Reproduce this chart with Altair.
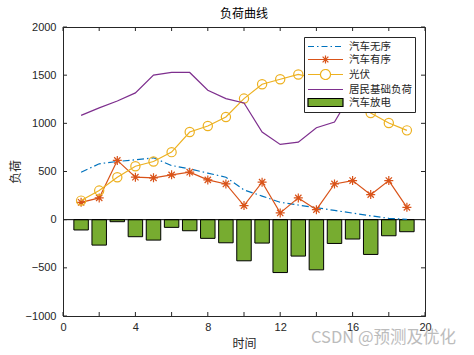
import altair as alt
import pandas as pd

# ---------------- data ----------------
hours = list(range(1, 20))
ev_unordered = [493, 580, 604, 621, 642, 562, 528, 483, 440, 309, 245, 180, 152, 124, 96, 68, 40, 14, 3]
ev_ordered = [180, 226, 615, 441, 434, 465, 493, 413, 371, 146, 389, 70, 226, 104, 371, 406, 260, 406, 128]
pv = [198, 302, 440, 555, 604, 701, 910, 972, 1066, 1257, 1406, 1458, 1507, 1465, 1385, 1240, 1107, 1003, 927]
base_load = [1083, 1160, 1232, 1316, 1500, 1528, 1528, 1344, 1257, 1212, 910, 781, 805, 955, 1014, 1330, 1450, 1550, 1600]
ev_discharge = [-107, -264, -21, -177, -212, -80, -115, -194, -240, -427, -243, -549, -378, -521, -247, -201, -361, -167, -125]

series_names = ["汽车无序", "汽车有序", "光伏", "居民基础负荷", "汽车放电"]
x_ticks = list(range(0, 21, 2))
y_ticks = list(range(-1000, 2001, 500))

title_text = "负荷曲线"
x_title = "时间"
y_title = "负荷"
watermark = "CSDN @预测及优化"

# ---------------- styles ----------------
BLUE, RED, YELLOW, PURPLE, GREEN = "#0072BD", "#D95319", "#EDB120", "#7E2F8E", "#77AC30"
AX = "#262626"
CJK = "Noto Sans CJK SC"
NUM = "Liberation Sans"
W, H = 362, 289

df = pd.DataFrame({
    "t": hours,
    "unordered": ev_unordered,
    "ordered": ev_ordered,
    "pv": pv,
    "base": base_load,
    "discharge": ev_discharge,
})

xs = alt.Scale(domain=[0, 20], nice=False, zero=False)
ys = alt.Scale(domain=[-1000, 2000], nice=False)

x_axis = alt.Axis(values=x_ticks, ticks=False, tickSize=0, grid=False, labelFont=NUM, labelFontSize=11,
                  labelColor=AX, labelPadding=5, domainColor=AX, title=x_title, titleFont=CJK,
                  titleFontSize=12, titleFontWeight="normal", titleColor=AX, titlePadding=6,
                  labelFlush=False, labelOverlap=False, format="d")
y_axis = alt.Axis(values=y_ticks, ticks=False, tickSize=0, grid=False, labelFont=NUM, labelFontSize=11,
                  labelColor=AX, labelPadding=7, domainColor=AX, title=y_title, titleFont=CJK,
                  titleFontSize=12, titleFontWeight="normal", titleColor=AX, titlePadding=3,
                  labelFlush=False, labelOverlap=False, format="d")

base = alt.Chart(df)

bars = base.transform_calculate(x1="datum.t - 0.4", x2="datum.t + 0.4").mark_bar(
    fill=GREEN, stroke="black", strokeWidth=1
).encode(
    x=alt.X("x1:Q", scale=xs, axis=x_axis),
    x2="x2:Q",
    y=alt.Y("discharge:Q", scale=ys, axis=y_axis),
    y2=alt.datum(0),
)

zero_line = alt.Chart(pd.DataFrame({"z": [0]})).mark_rule(color="black", strokeWidth=1).encode(
    y=alt.Y("z:Q", scale=ys)
)

def line(field, color, dash=None):
    kw = dict(color=color, strokeWidth=1.2)
    if dash:
        kw["strokeDash"] = dash
    return base.mark_line(**kw).encode(
        x=alt.X("t:Q", scale=xs), y=alt.Y(f"{field}:Q", scale=ys)
    )

asterisk = "M0,-1V1M-1,0H1M-0.7,-0.7L0.7,0.7M-0.7,0.7L0.7,-0.7"

l_unordered = line("unordered", BLUE, [7, 3, 1.5, 3])
l_ordered = line("ordered", RED)
p_ordered = base.mark_point(shape=asterisk, size=81, stroke=RED, strokeWidth=1.2, filled=False, opacity=1).encode(
    x=alt.X("t:Q", scale=xs), y=alt.Y("ordered:Q", scale=ys)
)
l_pv = line("pv", YELLOW)
p_pv = base.mark_point(shape="circle", size=85, stroke=YELLOW, strokeWidth=1.2, filled=False, opacity=1).encode(
    x=alt.X("t:Q", scale=xs), y=alt.Y("pv:Q", scale=ys)
)
l_base = line("base", PURPLE)

# inward ticks on all four sides
xt = alt.Chart(pd.DataFrame({"tx": x_ticks}))
yt = alt.Chart(pd.DataFrame({"ty": y_ticks}))
tick_b = xt.mark_rule(color=AX).encode(x=alt.X("tx:Q", scale=xs), y=alt.value(H), y2=alt.value(H - 4))
tick_t = xt.mark_rule(color=AX).encode(x=alt.X("tx:Q", scale=xs), y=alt.value(0), y2=alt.value(4))
tick_l = yt.mark_rule(color=AX).encode(y=alt.Y("ty:Q", scale=ys), x=alt.value(0), x2=alt.value(4))
tick_r = yt.mark_rule(color=AX).encode(y=alt.Y("ty:Q", scale=ys), x=alt.value(W), x2=alt.value(W - 4))

# legend (symbols built as custom paths, unit = 5.5px, 35px long)
sym_paths = [
    "M-1,0H5.36",
    "M-1,0H5.36M2.18,-0.73V0.73M1.66,-0.52L2.7,0.52M1.66,0.52L2.7,-0.52",
    "M-1,0H1.27M3.09,0H5.36M1.27,0A0.91,0.91 0 1 1 3.09,0A0.91,0.91 0 1 1 1.27,0",
    "M-1,0H5.36",
    "M-1,-0.73H5.36V0.73H-1Z",
]
leg = alt.Legend(
    title=None, orient="top-right", offset=10, fillColor="white", strokeColor=AX, padding=3,
    rowPadding=1, symbolSize=121, symbolStrokeWidth=1.2, labelOffset=29, labelFont=CJK,
    labelFontSize=10.5, labelColor=AX, symbolOpacity=1, labelLimit=200,
)
legend_layer = alt.Chart(pd.DataFrame({"series": series_names})).transform_filter("false").mark_point(
    size=121, opacity=1, strokeWidth=1.2
).encode(
    shape=alt.Shape("series:N", scale=alt.Scale(domain=series_names, range=sym_paths), legend=leg),
    stroke=alt.Stroke("series:N", scale=alt.Scale(domain=series_names, range=[BLUE, RED, YELLOW, PURPLE, "black"]), legend=leg),
    fill=alt.Fill("series:N", scale=alt.Scale(domain=series_names, range=["transparent", "transparent", "transparent", "transparent", GREEN]), legend=leg),
    strokeDash=alt.StrokeDash("series:N", scale=alt.Scale(domain=series_names, range=[[6, 3, 1.5, 3], [1, 0], [1, 0], [1, 0], [1, 0]]), legend=leg),
)

wm = alt.Chart(pd.DataFrame({"a": [0]})).mark_text(
    text=watermark, align="right", baseline="middle", font=CJK, fontSize=16.5, color="#bcbcbc"
).encode(x=alt.value(W + 31), y=alt.value(H + 22))

chart = alt.layer(
    bars, zero_line, l_unordered, l_ordered, p_ordered, l_pv, p_pv, l_base,
    tick_b, tick_t, tick_l, tick_r, legend_layer, wm
).properties(
    width=W, height=H,
    title=alt.TitleParams(title_text, font=CJK, fontSize=12, fontWeight="normal", color="black", offset=6, dy=6),
    autosize=alt.AutoSizeParams(type="none"),
    padding={"left": 63, "top": 27, "right": 49, "bottom": 39},
    background="white",
).configure_view(stroke=AX, strokeWidth=1)

chart.save("out.html", embed_options={"renderer": "svg", "actions": False})
